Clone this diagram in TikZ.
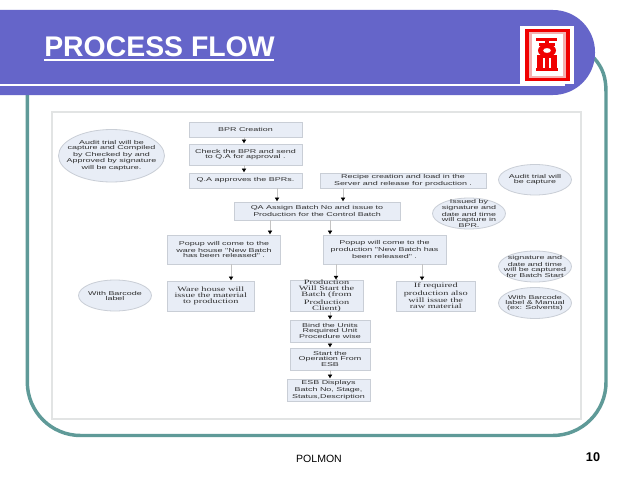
\documentclass[tikz,border=0pt]{standalone}
\usepackage{fontspec}
\setmainfont{Liberation Sans}
\newfontfamily\diagsans[FakeStretch=1.6]{Liberation Sans}
\newfontfamily\diagserif[FakeStretch=1.55]{Liberation Serif}
\definecolor{bannerc}{HTML}{6565C9}
\definecolor{tealc}{HTML}{5F9A98}
\definecolor{panelc}{HTML}{E2E4E4}
\definecolor{boxf}{HTML}{E8EDF6}
\definecolor{boxd}{HTML}{C9CED6}
\definecolor{inkc}{HTML}{303030}
\definecolor{arrc}{HTML}{C4C4C4}
\definecolor{logor}{HTML}{F00000}
\definecolor{logop}{HTML}{F4B0B0}
\usetikzlibrary{arrows.meta,shapes.geometric}
\tikzset{
  x=0.75pt,y=-0.75pt,
  sanstext/.style={font=\diagsans\fontsize{4.2pt}{3.75pt}\selectfont,text=inkc,align=center},
  seriftext/.style={font=\diagserif\fontsize{5pt}{4.5pt}\selectfont,text=inkc,align=center},
  flowbox/.style={fill=boxf,draw=boxd,line width=0.6pt,inner sep=0pt},
  flowell/.style={ellipse,fill=boxf,draw=boxd,line width=0.6pt,inner xsep=-25pt,inner ysep=-12pt},
  flowarr/.style={draw=arrc,line width=0.5pt,-{Latex[length=3pt,width=3.6pt,black]}},
}
\newcommand{\boxat}[6]{%
  \node[flowbox,#6,minimum width=#4*0.75pt-#2*0.75pt,minimum height=#5*0.75pt-#3*0.75pt] (#1) at ({(#2+#4)/2},{(#3+#5)/2})}
\newcommand{\ellat}[6]{%
  \node[flowell,#6,minimum width=#4*0.75pt-#2*0.75pt,minimum height=#5*0.75pt-#3*0.75pt] (#1) at ({(#2+#4)/2},{(#3+#5)/2})}
\begin{document}
\begin{tikzpicture}
\useasboundingbox (0,0) rectangle (638,478);
\fill[white] (0,0) rectangle (638,478);
% frame
\draw[tealc,line width=2.6pt] (27.3,90) [rounded corners=40pt] -- (27.3,435.5) -- (606,435.5) [sharp corners] -- (606,92) .. controls (606,78) and (603,68) .. (594,58);
% banner
\fill[bannerc] (-5,10) [rounded corners=31.5pt] -- (595,10) -- (595,95) [sharp corners] -- (-5,95) -- cycle;
\fill[white] (0,83.5) rectangle (565,86);
% title
\node[font=\bfseries\fontsize{21.3pt}{24pt}\selectfont,text=white,inner sep=0pt,anchor=base west] (title) at (44,57) {PROCESS FLOW};
\fill[white] (44,59.2) rectangle (274,60.8);
% logo
\fill[white] (520,26) rectangle (574,84);
\fill[logor] (525,29) rectangle (570,81);
\fill[logop] (529,32.5) rectangle (566,78);
\fill[white] (531.5,34) rectangle (563,76);
\fill[logor] (536,38) rectangle (557,41.5);
\fill[logor] (545,41) rectangle (549,46);
\fill[logor] (539,43.5) rectangle (555,46);
\fill[logor,even odd rule] (547,50.5) ellipse [x radius=9,y radius=6.5] (547,50.5) ellipse [x radius=4,y radius=2.5];
\fill[logor] (537,55) rectangle (557,58);
\fill[logor] (537,55) rectangle (543,68);
\fill[logor] (551,55) rectangle (557,68);
\fill[logor] (545,55) rectangle (549,70);
\fill[logor] (536,68) rectangle (557.5,71);
% panel
\draw[panelc,line width=0.8pt,fill=white] (52,112) rectangle (581,419);
% boxes
\boxat{bpr}{189}{122}{302}{137}{sanstext}{BPR Creation};
\boxat{check}{189}{144}{302}{165}{sanstext}{Check the BPR and send\\to Q.A for approval .};
\boxat{qa}{189}{173}{302}{188}{sanstext}{Q.A approves the BPRs.};
\boxat{recipe}{320}{173}{486}{188}{sanstext}{Recipe creation and load in  the\\Server and release for production  .};
\boxat{assign}{234}{202}{400}{220}{sanstext}{QA Assign Batch No and issue to\\Production for the Control Batch};
\boxat{popa}{167.5}{235}{280.5}{264}{sanstext}{Popup will come to the\\ware house "New Batch\\has been released" .};
\boxat{popb}{323}{235}{446}{264}{sanstext}{Popup will come to the\\production "New Batch has\\been released" .};
\boxat{ware}{167.5}{281}{254}{311}{seriftext}{Ware house will\\issue the material\\to production};
\boxat{prod}{290}{281}{363}{311}{seriftext}{Production\\Will Start the\\Batch  (from\\Production\\Client)};
\boxat{ifreq}{396}{281}{475.5}{311}{seriftext}{If required\\production also\\will issue the\\raw material};
\boxat{bind}{290}{320}{370}{342}{sanstext}{Bind the Units\\Required  Unit\\Procedure wise};
\boxat{start}{290}{348}{370}{370}{sanstext}{Start the\\Operation From\\ESB};
\boxat{esb}{287}{379}{370}{401}{sanstext}{ESB Displays\\Batch No, Stage,\\Status,Description};
% ellipses
\ellat{audita}{58.5}{129.5}{164.5}{182}{sanstext}{Audit trial will be\\capture and Compiled\\by Checked by and\\Approved by signature\\will be capture.};
\ellat{auditb}{498.5}{164.5}{571.5}{195}{sanstext}{Audit trial will\\be capture};
\ellat{issued}{432.5}{198}{505.5}{229}{sanstext}{Issued by\\signature and\\date and time\\will capture in\\BPR.};
\ellat{sign}{498.5}{251}{571.5}{282}{sanstext}{signature and\\date and time\\will be captured\\for Batch Start};
\ellat{barb}{498.5}{287.5}{571.5}{318.5}{sanstext}{With  Barcode\\label  \& Manual\\(ex: Solvents)};
\ellat{bara}{78.5}{280}{151.5}{311}{sanstext}{With  Barcode\\label};
% connectors
\coordinate (c1) at (244,0);
\coordinate (c2) at (277,0);
\coordinate (c3) at (343,0);
\coordinate (c4) at (270,0);
\coordinate (c5) at (330,0);
\coordinate (c6) at (231,0);
\coordinate (c7) at (336,0);
\coordinate (c8) at (422,0);
\draw[flowarr] (bpr.south -| c1) -- (check.north -| c1);
\draw[flowarr] (check.south -| c1) -- (qa.north -| c1);
\draw[flowarr] (qa.south -| c2) -- (assign.north -| c2);
\draw[flowarr] (recipe.south -| c3) -- (assign.north -| c3);
\draw[flowarr] (assign.south -| c4) -- (popa.north -| c4);
\draw[flowarr] (assign.south -| c5) -- (popb.north -| c5);
\draw[flowarr] (popa.south -| c6) -- (ware.north -| c6);
\draw[flowarr] (popb.south -| c7) -- (prod.north -| c7);
\draw[flowarr] (popb.south -| c8) -- (ifreq.north -| c8);
\draw[flowarr] (prod.south -| c5) -- (bind.north -| c5);
\draw[flowarr] (bind.south -| c5) -- (start.north -| c5);
\draw[flowarr] (start.south -| c5) -- (esb.north -| c5);
% footer
\node[font=\fontsize{7.9pt}{9pt}\selectfont,text=black,inner sep=0pt] (footer) at (319,458.5) {POLMON};
\node[font=\bfseries\fontsize{9.5pt}{11pt}\selectfont,text=black,inner sep=0pt] (pagenum) at (593,457) {10};
\end{tikzpicture}
\end{document}
